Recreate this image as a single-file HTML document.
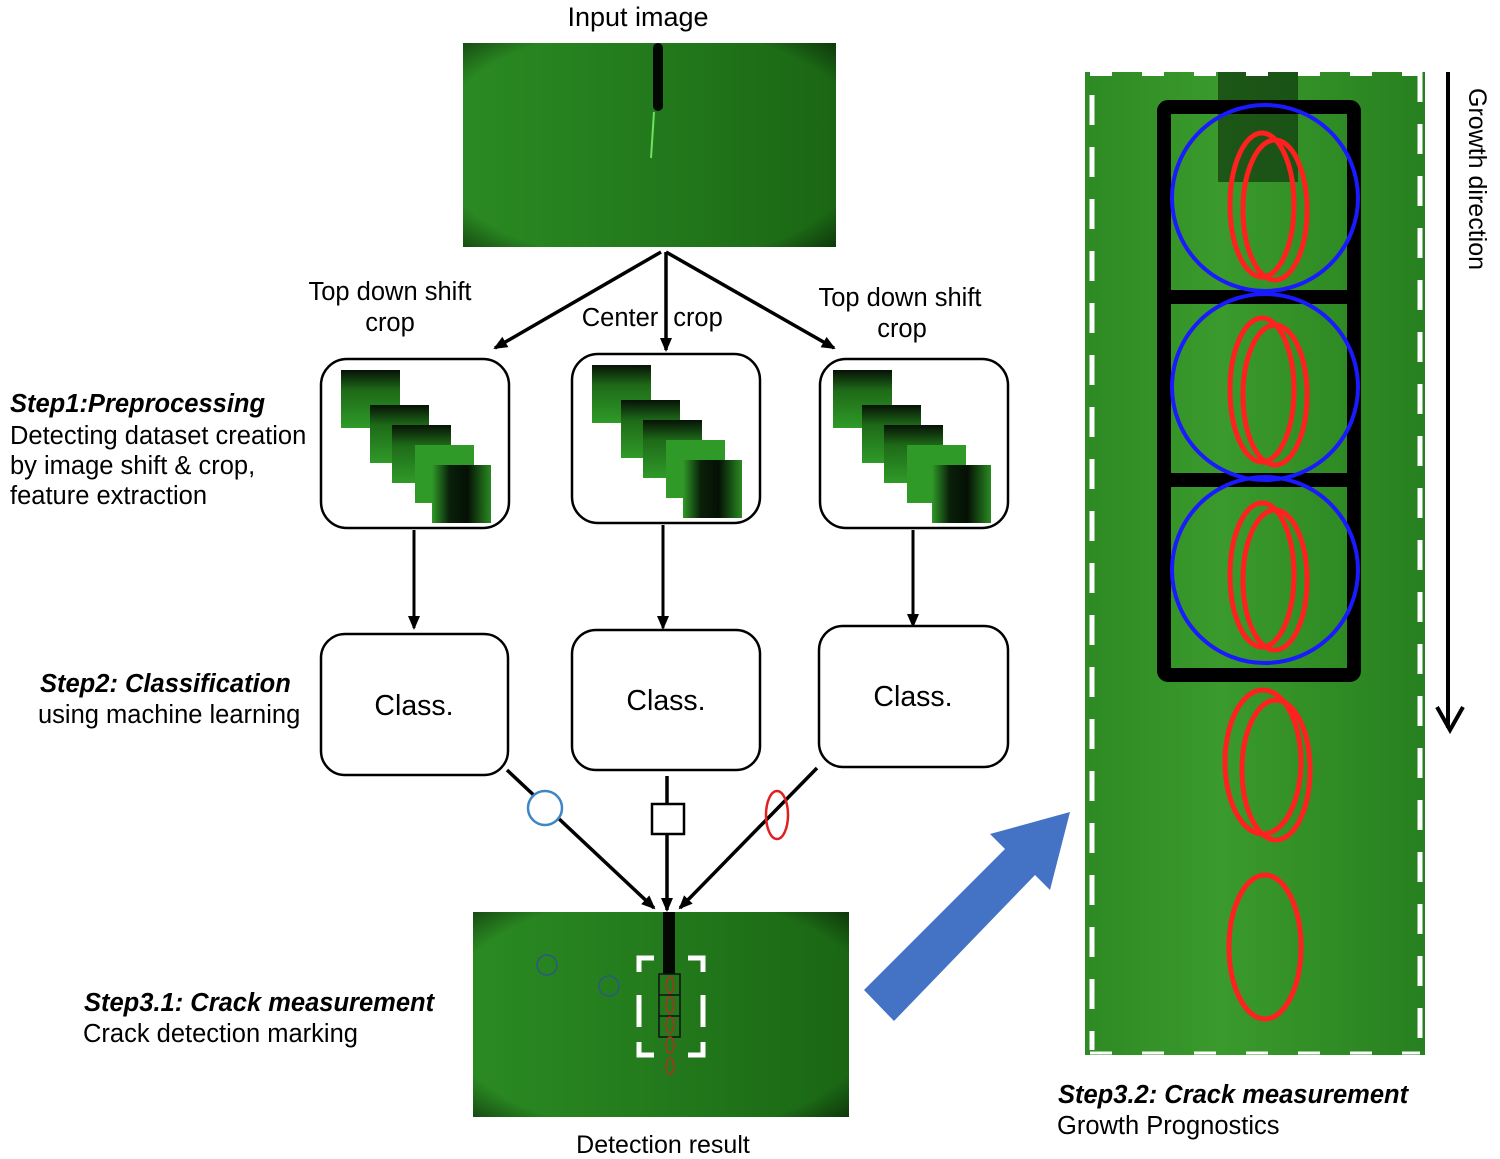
<!DOCTYPE html>
<html><head><meta charset="utf-8"><style>
html,body{margin:0;padding:0;background:#fff;}
svg{display:block;font-family:"Liberation Sans",Arial,sans-serif;}
</style></head><body>
<svg width="1500" height="1159" viewBox="0 0 1500 1159" xmlns="http://www.w3.org/2000/svg">
<defs>
<linearGradient id="gimg" x1="0" y1="0" x2="1" y2="0">
<stop offset="0" stop-color="#2a8a22"/><stop offset="0.5" stop-color="#237a1c"/><stop offset="1" stop-color="#1a6614"/>
</linearGradient>
<radialGradient id="vig" cx="0.5" cy="0.5" r="0.72">
<stop offset="0.8" stop-color="#000" stop-opacity="0"/><stop offset="1" stop-color="#000" stop-opacity="0.5"/>
</radialGradient>
<linearGradient id="tile" x1="0" y1="0" x2="0" y2="1">
<stop offset="0" stop-color="#061206"/><stop offset="0.35" stop-color="#1e6a18"/><stop offset="1" stop-color="#2f9a28"/>
</linearGradient>
<linearGradient id="tile5" x1="0" y1="0" x2="1" y2="0">
<stop offset="0" stop-color="#2f9a28"/><stop offset="0.3" stop-color="#0a200a"/><stop offset="0.6" stop-color="#051005"/><stop offset="1" stop-color="#2a8a22"/>
</linearGradient>
<linearGradient id="rp" x1="0" y1="0" x2="1" y2="0">
<stop offset="0" stop-color="#2e8a24"/><stop offset="0.4" stop-color="#3a9a2c"/><stop offset="1" stop-color="#27801f"/>
</linearGradient>
<marker id="ah" markerWidth="14" markerHeight="14" refX="12" refY="7" orient="auto" markerUnits="userSpaceOnUse">
<path d="M0,1 L14,7 L0,13 Z" fill="#000"/>
</marker>
</defs>

<!-- Input image -->
<text x="638" y="26" font-size="27" text-anchor="middle">Input image</text>
<rect x="463" y="43" width="373" height="204" fill="url(#gimg)"/>
<rect x="463" y="43" width="373" height="204" fill="url(#vig)"/>
<rect x="653" y="43" width="10" height="68" rx="5" fill="#030803"/>
<line x1="654" y1="112" x2="651" y2="158" stroke="#6fe060" stroke-width="2"/>

<!-- Branch arrows -->
<g stroke="#000" stroke-width="3.5" fill="none">
<line x1="661" y1="252" x2="495" y2="348" marker-end="url(#ah)"/>
<line x1="666" y1="252" x2="666" y2="350" marker-end="url(#ah)"/>
<line x1="666" y1="252" x2="834" y2="348" marker-end="url(#ah)"/>
</g>
<text x="390" y="300" font-size="25.5" text-anchor="middle">Top down shift</text>
<text x="390" y="331" font-size="25.5" text-anchor="middle">crop</text>
<text x="620" y="326" font-size="25.5" text-anchor="middle">Center</text>
<text x="698" y="326" font-size="25.5" text-anchor="middle">crop</text>
<text x="900" y="306" font-size="25.5" text-anchor="middle">Top down shift</text>
<text x="902" y="337" font-size="25.5" text-anchor="middle">crop</text>

<!-- Row 1 boxes -->
<g fill="#fff" stroke="#000" stroke-width="2.5">
<rect x="321" y="359" width="188" height="169" rx="26"/>
<rect x="572" y="354" width="188" height="169" rx="26"/>
<rect x="820" y="359" width="188" height="169" rx="26"/>
</g>
<g>
<rect x="341" y="370" width="59" height="58" fill="url(#tile)"/>
<rect x="370" y="405" width="59" height="58" fill="url(#tile)"/>
<rect x="392" y="425" width="59" height="58" fill="url(#tile)"/>
<rect x="415" y="445" width="59" height="58" fill="#2f9a28"/>
<rect x="432" y="465" width="59" height="58" fill="url(#tile5)"/>
</g>
<g transform="translate(251,-5)">
<rect x="341" y="370" width="59" height="58" fill="url(#tile)"/>
<rect x="370" y="405" width="59" height="58" fill="url(#tile)"/>
<rect x="392" y="425" width="59" height="58" fill="url(#tile)"/>
<rect x="415" y="445" width="59" height="58" fill="#2f9a28"/>
<rect x="432" y="465" width="59" height="58" fill="url(#tile5)"/>
</g>
<g transform="translate(492,0)">
<rect x="341" y="370" width="59" height="58" fill="url(#tile)"/>
<rect x="370" y="405" width="59" height="58" fill="url(#tile)"/>
<rect x="392" y="425" width="59" height="58" fill="url(#tile)"/>
<rect x="415" y="445" width="59" height="58" fill="#2f9a28"/>
<rect x="440" y="465" width="59" height="58" fill="url(#tile5)"/>
</g>

<!-- Step texts -->
<text x="10" y="412" font-size="25.5" font-weight="bold" font-style="italic">Step1:Preprocessing</text>
<text x="10" y="444" font-size="25.5">Detecting dataset creation</text>
<text x="10" y="474" font-size="25.5">by image shift &amp; crop,</text>
<text x="10" y="504" font-size="25.5">feature extraction</text>
<text x="40" y="692" font-size="25.5" font-weight="bold" font-style="italic">Step2: Classification</text>
<text x="38" y="723" font-size="25.5">using machine learning</text>

<!-- Vertical arrows -->
<g stroke="#000" stroke-width="3" fill="none">
<line x1="414" y1="530" x2="414" y2="628" marker-end="url(#ah)"/>
<line x1="663" y1="525" x2="663" y2="628" marker-end="url(#ah)"/>
<line x1="913" y1="530" x2="913" y2="626" marker-end="url(#ah)"/>
</g>

<!-- Row 2 boxes -->
<g fill="#fff" stroke="#000" stroke-width="2.5">
<rect x="321" y="634" width="187" height="141" rx="24"/>
<rect x="572" y="630" width="188" height="140" rx="24"/>
<rect x="819" y="626" width="189" height="141" rx="24"/>
</g>
<text x="414" y="715" font-size="28.5" text-anchor="middle">Class.</text>
<text x="666" y="710" font-size="28.5" text-anchor="middle">Class.</text>
<text x="913" y="706" font-size="28.5" text-anchor="middle">Class.</text>

<!-- converging arrows -->
<g stroke="#000" stroke-width="3.5" fill="none">
<line x1="507" y1="770" x2="654" y2="908" marker-end="url(#ah)"/>
<line x1="667" y1="776" x2="667" y2="910" marker-end="url(#ah)"/>
<line x1="817" y1="768" x2="680" y2="908" marker-end="url(#ah)"/>
</g>
<circle cx="545" cy="808" r="17" fill="#fff" stroke="#3d85c6" stroke-width="2.5"/>
<rect x="652" y="804" width="32" height="30" fill="#fff" stroke="#000" stroke-width="2.5"/>
<ellipse cx="777" cy="815" rx="11" ry="24" fill="none" stroke="#e02020" stroke-width="2.5"/>

<!-- Detection image -->
<rect x="473" y="912" width="376" height="205" fill="url(#gimg)"/>
<rect x="473" y="912" width="376" height="205" fill="url(#vig)"/>
<rect x="663" y="912" width="12" height="62" fill="#030803"/>
<circle cx="547" cy="965" r="10" fill="none" stroke="#2a5a80" stroke-width="1.5"/>
<circle cx="609" cy="986" r="10" fill="none" stroke="#2a5a80" stroke-width="1.5"/>
<rect x="659" y="974" width="21" height="63" fill="none" stroke="#111" stroke-width="1.5"/>
<line x1="659" y1="995" x2="680" y2="995" stroke="#111" stroke-width="1.5"/>
<line x1="659" y1="1016" x2="680" y2="1016" stroke="#111" stroke-width="1.5"/>
<g fill="none" stroke="#b03020" stroke-width="1.5">
<ellipse cx="670" cy="985" rx="4" ry="8"/><ellipse cx="670" cy="1005" rx="4" ry="8"/>
<ellipse cx="670" cy="1025" rx="4" ry="8"/><ellipse cx="670" cy="1045" rx="4" ry="8"/>
<ellipse cx="670" cy="1066" rx="4" ry="8"/>
</g>
<g fill="none" stroke="#fff" stroke-width="5">
<polyline points="639,972 639,958 654,958"/>
<polyline points="688,958 703,958 703,972"/>
<polyline points="639,1042 639,1055 654,1055"/>
<polyline points="688,1055 703,1055 703,1042"/>
<line x1="639" y1="995" x2="639" y2="1027"/>
<line x1="703" y1="995" x2="703" y2="1027"/>
</g>
<text x="663" y="1153" font-size="25" text-anchor="middle">Detection result</text>
<text x="84" y="1011" font-size="25.5" font-weight="bold" font-style="italic">Step3.1: Crack measurement</text>
<text x="83" y="1042" font-size="25.5">Crack detection marking</text>

<!-- Blue big arrow -->
<polygon points="864,990 1005,849 990,834 1070,812 1050,890 1035,875 894,1021" fill="#4472c4"/>

<!-- Right panel -->
<rect x="1085" y="72" width="340" height="983" fill="url(#rp)"/>
<rect x="1218" y="72" width="80" height="110" fill="#0a2a0a" opacity="0.6"/>
<line x1="1092" y1="95" x2="1092" y2="1050" stroke="#fff" stroke-width="5" stroke-dasharray="30,22"/>
<line x1="1420" y1="72" x2="1420" y2="1050" stroke="#fff" stroke-width="5" stroke-dasharray="30,22"/>
<line x1="1090" y1="74" x2="1420" y2="74" stroke="#fff" stroke-width="4" stroke-dasharray="22,30"/>
<line x1="1090" y1="1053" x2="1420" y2="1053" stroke="#fff" stroke-width="3" stroke-dasharray="22,30"/>
<g fill="none" stroke="#000" stroke-width="14">
<rect x="1164" y="107" width="190" height="568" rx="4"/>
<line x1="1164" y1="297" x2="1354" y2="297"/>
<line x1="1164" y1="480" x2="1354" y2="480"/>
</g>
<g fill="none" stroke="#1a1aff" stroke-width="4">
<circle cx="1265" cy="198" r="93"/>
<circle cx="1265" cy="387" r="93"/>
<circle cx="1265" cy="570" r="93"/>
</g>
<g fill="none" stroke="#ff2020" stroke-width="5">
<ellipse cx="1262" cy="205" rx="32" ry="72"/><ellipse cx="1275" cy="210" rx="32" ry="70"/>
<ellipse cx="1262" cy="390" rx="32" ry="72"/><ellipse cx="1275" cy="395" rx="32" ry="70"/>
<ellipse cx="1262" cy="575" rx="32" ry="72"/><ellipse cx="1275" cy="580" rx="32" ry="70"/>
<ellipse cx="1263" cy="762" rx="38" ry="72"/><ellipse cx="1276" cy="770" rx="34" ry="70"/>
<ellipse cx="1265" cy="947" rx="36" ry="72"/>
</g>
<line x1="1448" y1="72" x2="1448" y2="728" stroke="#000" stroke-width="4"/>
<polyline points="1437,707 1450,730 1463,707" fill="none" stroke="#000" stroke-width="4"/>
<text x="0" y="0" font-size="25" transform="translate(1469,88) rotate(90)">Growth direction</text>
<text x="1058" y="1103" font-size="25.5" font-weight="bold" font-style="italic">Step3.2: Crack measurement</text>
<text x="1057" y="1134" font-size="25.5">Growth Prognostics</text>
</svg>
</body></html>
